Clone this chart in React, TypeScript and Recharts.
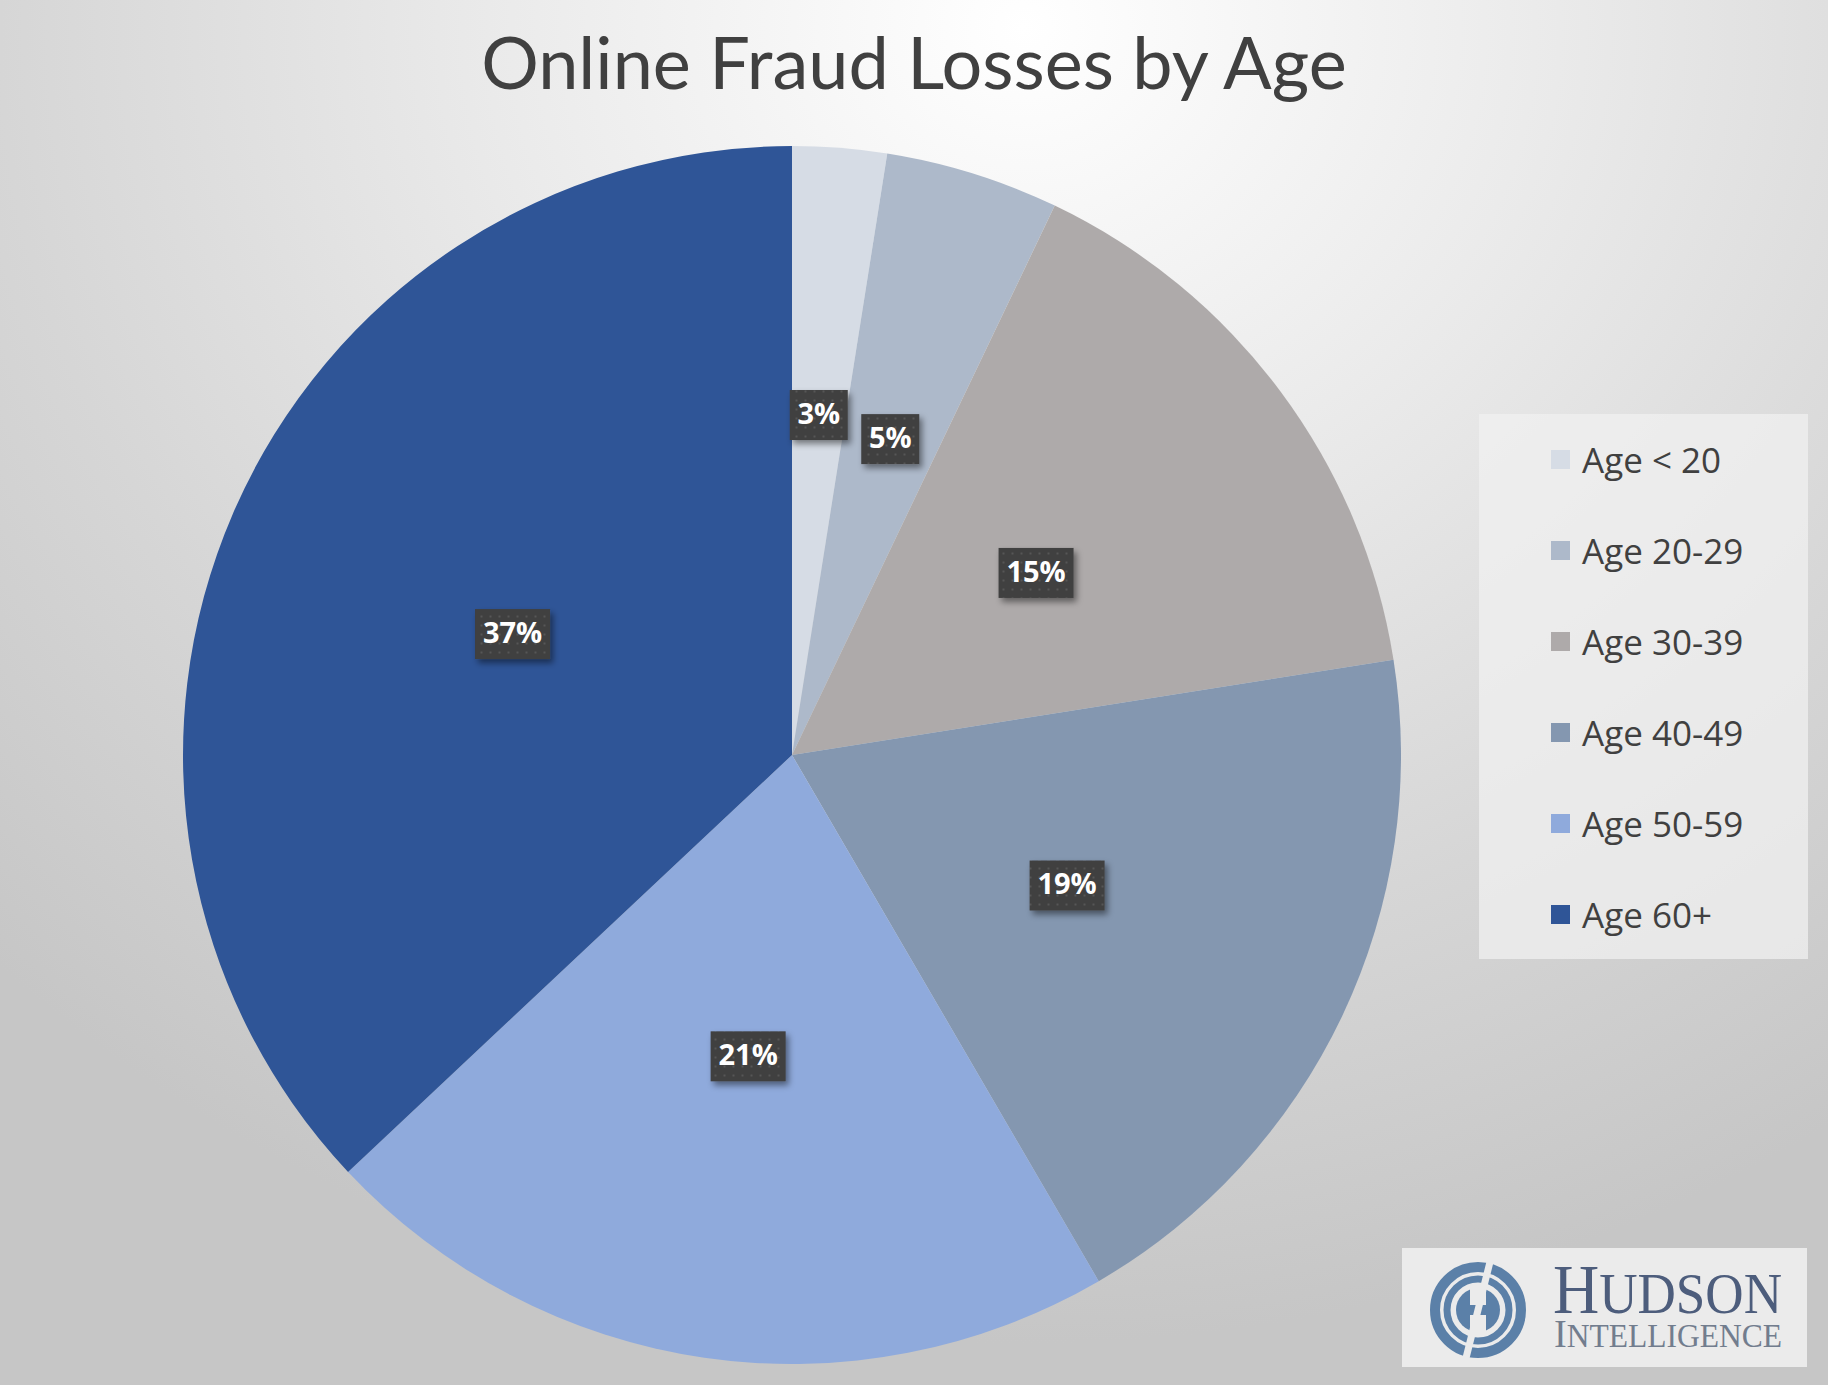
import React from 'react'
import { PieChart, Pie, Cell, Legend } from 'recharts'

const ageGroups = ['Age < 20', 'Age 20-29', 'Age 30-39', 'Age 40-49', 'Age 50-59', 'Age 60+']
// shares; the tags show them rounded
const lossShares = [2.5, 4.6, 15.4, 19.1, 21.4, 37.0]
const sliceColors = ['#d6dce5', '#adb9ca', '#aeaaaa', '#8497b0', '#8faadc', '#2f5597']

const chartData = ageGroups.map((name, i) => ({ name, value: lossShares[i] }))

const RAD = Math.PI / 180

// dark tag box with white percentage, like the Excel data callouts
const renderLabel = (props: any) => {
    const { cx, cy, midAngle, outerRadius, value, percent } = props
    // Excel pushes the tiny slices' labels a little further out
    const k = percent < 0.1 ? 0.58 - percent * 0.8 : 0.5
    const r = outerRadius * k
    const x = cx + r * Math.cos(-midAngle * RAD)
    const y = cy + r * Math.sin(-midAngle * RAD)
    const text = `${Math.round(value)}%`
    const w = text.length === 2 ? 58 : 75
    const h = 50
    return (
        <g>
            <rect x={x - w / 2} y={y - h / 2} width={w} height={h} fill="url(#dotFill)" filter="url(#tagShadow)" />
            <text x={x} y={y + 1} fill="#ffffff" fontFamily="'Open Sans', sans-serif" fontWeight={700} fontSize={29}
                textAnchor="middle" dominantBaseline="middle">{text}</text>
        </g>
    )
}

const renderLegend = (props: any) => {
    const items = [...props.payload].sort((a: any, b: any) => ageGroups.indexOf(a.value) - ageGroups.indexOf(b.value))
    return (
        <div style={{ width: 329, height: 545, background: 'rgba(240,240,240,0.75)', boxSizing: 'border-box' }}>
            {items.map((entry: any) => (
                <div key={entry.value} style={{ display: 'flex', alignItems: 'center', height: 91, marginLeft: 72 }}>
                    <span style={{ width: 19, height: 19, background: entry.color, display: 'inline-block', marginRight: 12, flex: 'none' }} />
                    <span style={{ fontFamily: "'Open Sans', sans-serif", fontSize: 35, color: '#404040', whiteSpace: 'nowrap' }}>{entry.value}</span>
                </div>
            ))}
        </div>
    )
}

function Logo() {
    return (
        <svg width={405} height={119} style={{ position: 'absolute', left: 1402, top: 1248 }}>
            <rect x={0} y={0} width={405} height={119} fill="#ebebeb" />
            <g transform="translate(76,62)">
                <circle r={43} fill="none" stroke="#5b80a8" strokeWidth={10} />
                <circle r={31} fill="none" stroke="#5b80a8" strokeWidth={7} />
                <circle r={22} fill="#5b80a8" />
                <rect x={-8} y={-23} width={16} height={18} fill="#ebebeb" />
                <rect x={-8} y={5} width={16} height={18} fill="#ebebeb" />
                <rect x={-3.5} y={-52} width={7} height={104} fill="#ebebeb" transform="rotate(14)" />
            </g>
            <text x={151} y={65} fontFamily="'Liberation Serif', serif" fill="#4d5d7c"
                textLength={229} lengthAdjust="spacingAndGlyphs">
                <tspan fontSize={70}>H</tspan>
                <tspan fontSize={58}>UDSON</tspan>
            </text>
            <text x={152} y={99} fontFamily="'Liberation Serif', serif" fill="#727d8e"
                textLength={228} lengthAdjust="spacingAndGlyphs">
                <tspan fontSize={40}>I</tspan>
                <tspan fontSize={33}>NTELLIGENCE</tspan>
            </text>
        </svg>
    )
}

export default function App() {
    return (
        <div style={{
            position: 'absolute', left: 0, top: 0, width: 1828, height: 1385, overflow: 'hidden',
            background: 'radial-gradient(ellipse 80% 95% at 56% 2%, #ffffff 0%, #ebebeb 35%, #d6d6d6 70%, #c6c6c6 100%)'
        }}>
            <div style={{
                position: 'absolute', left: 0, width: 1828, top: 18, textAlign: 'center',
                fontFamily: 'Lato, sans-serif', fontSize: 72, color: '#404040'
            }}>
                Online Fraud Losses by Age
            </div>
            <PieChart width={1828} height={1385} margin={{ top: 0, right: 0, bottom: 0, left: 0 }}
                style={{ position: 'absolute', left: 0, top: 0 }}>
                <defs>
                    <pattern id="dotFill" width={9} height={9} patternUnits="userSpaceOnUse">
                        <rect width={9} height={9} fill="#3f3f3f" />
                        <rect x={3.5} y={3.5} width={2} height={2} fill="#575757" />
                    </pattern>
                    <filter id="tagShadow" x="-20%" y="-20%" width="150%" height="160%">
                        <feDropShadow dx={3} dy={4} stdDeviation={3} floodColor="#000" floodOpacity={0.45} />
                    </filter>
                </defs>
                <Pie
                    data={chartData}
                    dataKey="value"
                    nameKey="name"
                    cx={792}
                    cy={755}
                    outerRadius={609}
                    startAngle={90}
                    endAngle={-270}
                    stroke="none"
                    label={renderLabel}
                    labelLine={false}
                    isAnimationActive={false}
                >
                    {chartData.map((d, i) => (
                        <Cell key={d.name} fill={sliceColors[i]} />
                    ))}
                </Pie>
                <Legend
                    content={renderLegend}
                    wrapperStyle={{ position: 'absolute', left: 1479, top: 414, width: 329, height: 545, bottom: 'auto', right: 'auto' }}
                />
            </PieChart>
            <Logo />
        </div>
    )
}
